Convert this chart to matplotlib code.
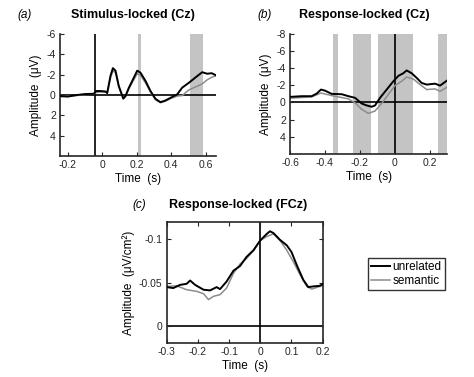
import matplotlib
matplotlib.use("Agg")
import matplotlib.pyplot as plt

plt.rcParams["font.family"] = ["Liberation Sans", "DejaVu Sans"]

# (a) stimulus-locked, Cz
t_a_unrel = [-0.245, -0.2, -0.15, -0.1, -0.049, -0.035, -0.01, 0.019, 0.029, 0.048, 0.062,
             0.077, 0.096, 0.122, 0.135, 0.154, 0.183, 0.203, 0.222, 0.251, 0.28, 0.309,
             0.338, 0.367, 0.396, 0.435, 0.464, 0.502, 0.541, 0.58, 0.609, 0.635, 0.66]
v_a_unrel = [0.1, 0.15, 0.0, -0.1, -0.13, -0.4, -0.4, -0.35, -0.2, -1.9, -2.65,
             -2.4, -0.9, 0.33, 0.1, -0.7, -1.7, -2.4, -2.2, -1.4, -0.4, 0.37,
             0.7, 0.53, 0.27, -0.07, -0.73, -1.2, -1.73, -2.25, -2.1, -2.15, -1.95]
t_a_sem = [-0.245, -0.2, -0.15, -0.1, -0.049, -0.035, -0.01, 0.019, 0.029, 0.048, 0.062,
           0.077, 0.096, 0.122, 0.135, 0.154, 0.183, 0.203, 0.222, 0.251, 0.28, 0.309,
           0.338, 0.367, 0.396, 0.435, 0.464, 0.502, 0.541, 0.58, 0.609, 0.635, 0.66]
v_a_sem = [0.15, 0.1, 0.05, -0.05, -0.1, -0.25, -0.3, -0.3, -0.2, -1.7, -2.4,
           -2.2, -0.8, 0.4, 0.15, -0.6, -1.5, -2.1, -1.95, -1.2, -0.3, 0.45,
           0.75, 0.6, 0.35, 0.1, 0.05, -0.5, -0.8, -1.1, -1.5, -1.75, -1.9]
bands_a = [(0.209, 0.226), (0.51, 0.587)]

# (b) response-locked, Cz
t_b_unrel = [-0.6, -0.533, -0.476, -0.447, -0.423, -0.4, -0.362, -0.304, -0.266, -0.228,
             -0.19, -0.161, -0.133, -0.114, -0.085, -0.047, -0.009, 0.02, 0.048, 0.067,
             0.096, 0.125, 0.153, 0.182, 0.23, 0.258, 0.3]
v_b_unrel = [-0.65, -0.73, -0.73, -1.04, -1.5, -1.38, -1.0, -0.96, -0.73, -0.54,
             0.12, 0.35, 0.5, 0.35, -0.54, -1.5, -2.46, -3.1, -3.4, -3.73,
             -3.4, -2.85, -2.27, -2.08, -2.19, -1.96, -2.58]
t_b_sem = [-0.6, -0.476, -0.423, -0.362, -0.266, -0.228, -0.19, -0.152, -0.114, -0.076,
           -0.038, 0.0, 0.038, 0.067, 0.105, 0.144, 0.182, 0.23, 0.258, 0.3]
v_b_sem = [-0.5, -0.65, -1.1, -0.8, -0.42, 0.04, 0.8, 1.27, 1.0, 0.12,
           -0.92, -1.96, -2.46, -2.96, -2.73, -2.08, -1.5, -1.58, -1.3, -1.8]
bands_b = [(-0.356, -0.327), (-0.237, -0.139), (-0.095, 0.103), (0.245, 0.3)]

# (c) response-locked, FCz
t_c_unrel = [-0.3, -0.279, -0.257, -0.236, -0.225, -0.209, -0.182, -0.161, -0.14, -0.129,
             -0.108, -0.086, -0.065, -0.044, -0.022, 0.0, 0.021, 0.031, 0.042, 0.063,
             0.085, 0.1, 0.117, 0.138, 0.154, 0.17, 0.191, 0.2]
v_c_unrel = [-0.0447, -0.0436, -0.0473, -0.0485, -0.0523, -0.0473, -0.0417, -0.0409, -0.0447, -0.0424,
             -0.0511, -0.0636, -0.0689, -0.0795, -0.0871, -0.0985, -0.106, -0.109, -0.107, -0.0992,
             -0.0928, -0.0852, -0.07, -0.053, -0.0447, -0.0455, -0.0462, -0.048]
t_c_sem = [-0.3, -0.268, -0.236, -0.204, -0.182, -0.166, -0.15, -0.129, -0.108, -0.086,
           -0.065, -0.044, -0.022, 0.0, 0.021, 0.042, 0.063, 0.085, 0.106, 0.128,
           0.149, 0.165, 0.191, 0.2]
v_c_sem = [-0.0455, -0.0462, -0.0417, -0.0398, -0.0371, -0.0303, -0.0341, -0.036, -0.0436, -0.0606,
           -0.0712, -0.0777, -0.0864, -0.0985, -0.103, -0.106, -0.0985, -0.0871, -0.0739, -0.0587,
           -0.0455, -0.0424, -0.0455, -0.047]

series_labels = ["unrelated", "semantic"]

BLACK = "black"
GRAY = "#8c8c8c"
BAND = "#c4c4c4"
TXT = "#262626"


def style_axes(ax, box):
    for side in ["top", "right"]:
        ax.spines[side].set_visible(box)
    for sp in ax.spines.values():
        sp.set_linewidth(1.2)
        sp.set_color(TXT)
    ax.tick_params(direction="in", length=3, width=0.8, labelsize=7.5,
                   colors=TXT, top=box, right=box, pad=3)


def draw_panel(ax, bands, tu, vu, ts, vs, vline, xlim, ylim, xticks, xtl, yticks, ytl, box):
    for b0, b1 in bands:
        ax.axvspan(b0, b1, color=BAND, lw=0, zorder=0)
    ax.axhline(0, color=BLACK, lw=1.2, zorder=1)
    ax.axvline(vline, color=BLACK, lw=1.2, zorder=1)
    ax.plot(ts, vs, color=GRAY, lw=1.1, zorder=2, label=series_labels[1])
    ax.plot(tu, vu, color=BLACK, lw=1.4, zorder=3, label=series_labels[0])
    ax.set_xlim(*xlim)
    ax.set_ylim(*ylim)
    ax.set_xticks(xticks)
    ax.set_xticklabels(xtl)
    ax.set_yticks(yticks)
    ax.set_yticklabels(ytl)
    style_axes(ax, box)
    ax.set_xlabel("Time  (s)", fontsize=8.5, labelpad=2)


fig = plt.figure(figsize=(4.74, 3.77), dpi=100)

ax_a = fig.add_axes([0.1266, 0.586, 0.329, 0.3236])
draw_panel(ax_a, bands_a, t_a_unrel, v_a_unrel, t_a_sem, v_a_sem, -0.043,
           (-0.245, 0.66), (6, -6),
           [-0.2, 0, 0.2, 0.4, 0.6], ["-0.2", "0", "0.2", "0.4", "0.6"],
           [-6, -4, -2, 0, 2, 4], ["-6", "-4", "-2", "0", "2", "4"], False)
ax_a.set_ylabel("Amplitude  (\u03bcV)", fontsize=8.5, labelpad=3)

ax_b = fig.add_axes([0.6118, 0.5915, 0.332, 0.319])
draw_panel(ax_b, bands_b, t_b_unrel, v_b_unrel, t_b_sem, v_b_sem, 0,
           (-0.6, 0.3), (6, -8),
           [-0.6, -0.4, -0.2, 0, 0.2], ["-0.6", "-0.4", "-0.2", "0", "0.2"],
           [-8, -6, -4, -2, 0, 2, 4], ["-8", "-6", "-4", "-2", "0", "2", "4"], False)
ax_b.set_ylabel("Amplitude  (\u03bcV)", fontsize=8.5, labelpad=3)

ax_c = fig.add_axes([0.3517, 0.0894, 0.329, 0.3225])
draw_panel(ax_c, [], t_c_unrel, v_c_unrel, t_c_sem, v_c_sem, 0,
           (-0.3, 0.2), (0.02, -0.12),
           [-0.3, -0.2, -0.1, 0, 0.1, 0.2], ["-0.3", "-0.2", "-0.1", "0", "0.1", "0.2"],
           [-0.1, -0.05, 0], ["-0.1", "-0.05", "0"], True)
ax_c.set_ylabel("Amplitude  (\u03bcV/cm\u00b2)", fontsize=8.5, labelpad=3)

# titles and panel letters
fig.text(133 / 474, 1 - 15 / 377, "Stimulus-locked (Cz)", fontsize=9, fontweight="bold",
         ha="center", va="center", color=BLACK)
fig.text(25 / 474, 1 - 15 / 377, "(a)", fontsize=8.5, style="italic", ha="center", va="center")
fig.text(364 / 474, 1 - 15 / 377, "Response-locked (Cz)", fontsize=9, fontweight="bold",
         ha="center", va="center", color=BLACK)
fig.text(265 / 474, 1 - 15 / 377, "(b)", fontsize=8.5, style="italic", ha="center", va="center")
fig.text(238.5 / 474, 1 - 205 / 377, "Response-locked (FCz)", fontsize=9, fontweight="bold",
         ha="center", va="center", color=BLACK)
fig.text(139 / 474, 1 - 205 / 377, "(c)", fontsize=8.5, style="italic", ha="center", va="center")

# legend
handles, labels = ax_c.get_legend_handles_labels()
leg = fig.legend(handles[::-1], labels[::-1], loc="center",
                 bbox_to_anchor=(406.5 / 474, 1 - 274 / 377), fontsize=8.5,
                 frameon=True, fancybox=False, edgecolor=BLACK, handlelength=1.6,
                 handletextpad=0.2, borderpad=0.25, labelspacing=0.1, borderaxespad=0,
                 handleheight=0.6)
leg.get_frame().set_linewidth(1.0)

fig.savefig("out.png", dpi=100)
